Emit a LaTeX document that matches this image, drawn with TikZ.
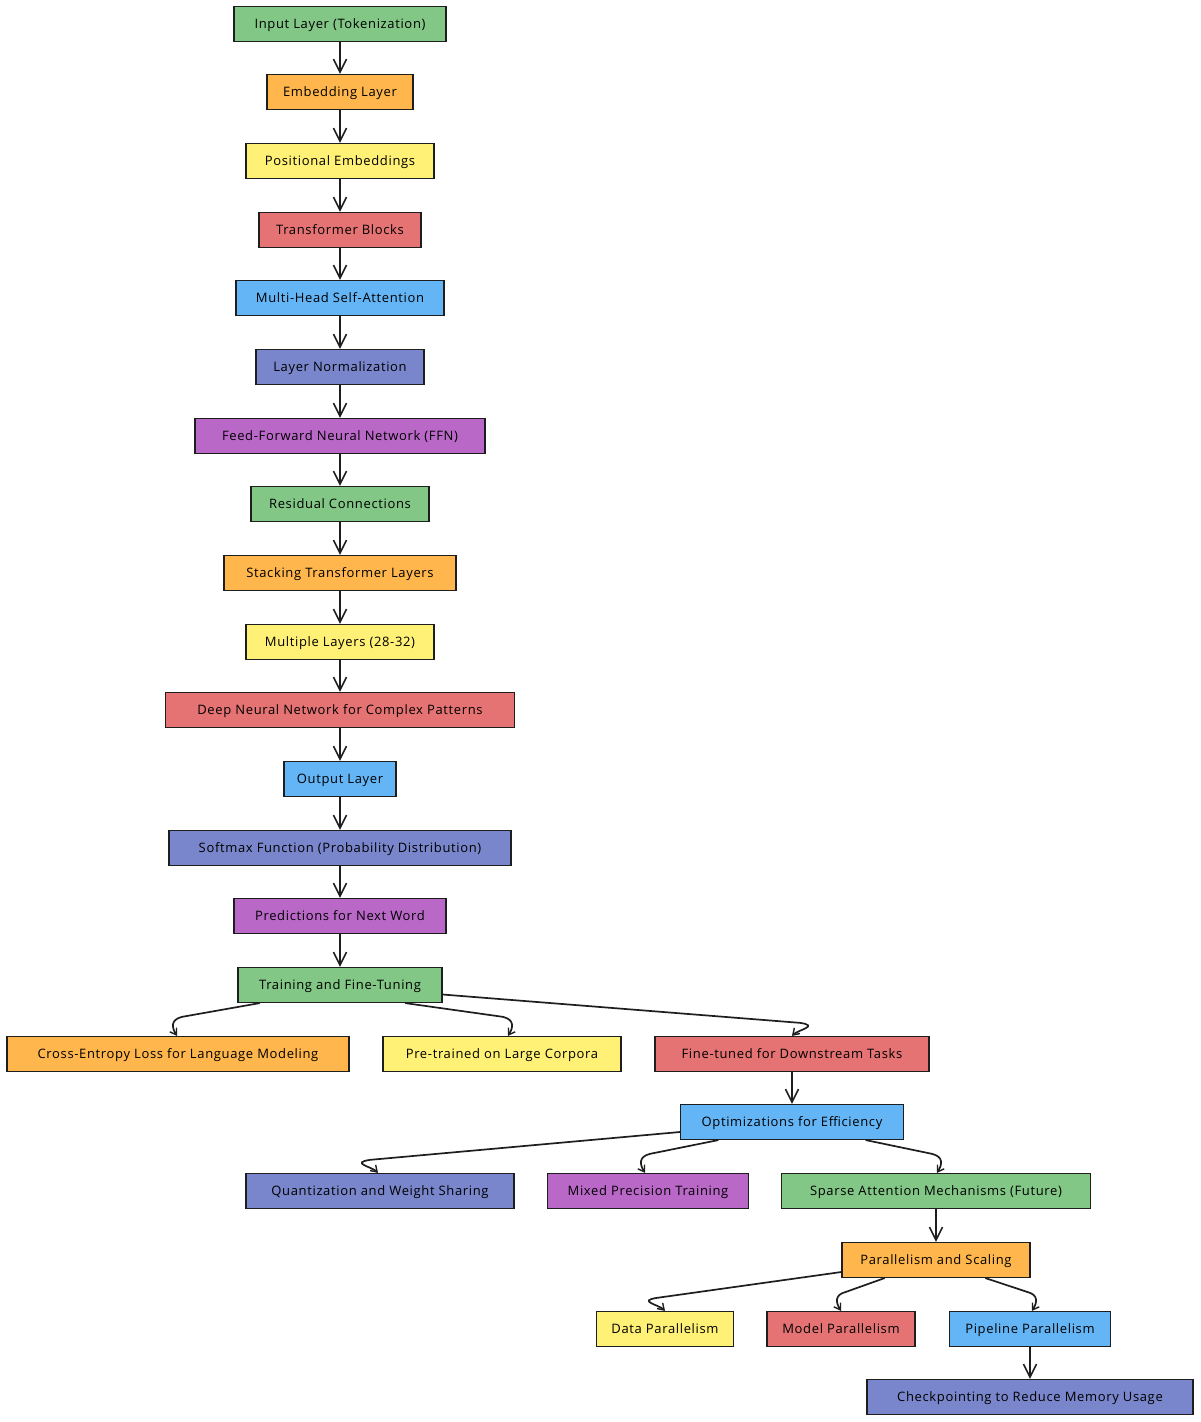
\documentclass[tikz,border=0pt]{standalone}
\usepackage{fontspec}
\setmainfont{Open Sans}[LetterSpace=5]
\usetikzlibrary{calc,arrows.meta}
\definecolor{cgreen}{HTML}{82C785}
\definecolor{corange}{HTML}{FFB74D}
\definecolor{cyellow}{HTML}{FFF176}
\definecolor{cred}{HTML}{E57373}
\definecolor{cblue}{HTML}{64B5F6}
\definecolor{cindigo}{HTML}{7986CB}
\definecolor{cpurple}{HTML}{BA68C8}
\definecolor{cline}{HTML}{1E1E1E}
\newcommand{\myhookL}[2]{\draw[hedge] (#1) -- ($(#2)+(5,-19)$) .. controls ($(#2)+(-7,-16)$) and ($(#2)+(-5,-8)$) .. (#2);}
\newcommand{\myhookR}[2]{\draw[hedge] (#1) -- ($(#2)+(-5,-19)$) .. controls ($(#2)+(7,-16)$) and ($(#2)+(5,-8)$) .. (#2);}
\newcommand{\myhookLL}[2]{\draw[hedge] (#1) -- ($(#2)+(-8,-13)$) .. controls ($(#2)+(-28,-10)$) and ($(#2)+(-6,-6)$) .. (#2);}
\newcommand{\myhookRR}[2]{\draw[hedge] (#1) -- ($(#2)+(8,-13)$) .. controls ($(#2)+(28,-10)$) and ($(#2)+(6,-6)$) .. (#2);}
\begin{document}
\begin{tikzpicture}[x=1pt,y=-1pt,
  box/.style={draw=cline, line width=1.3pt, minimum height=35pt, inner sep=0pt,
    font=\fontsize{13}{15}\selectfont, text=black, text height=9.5pt, text depth=1.5pt},
  edge/.style={draw=cline, line width=1.7pt, line cap=round,
    -{Straight Barb[length=13pt,width=13pt,line width=1.6pt]}},
  hedge/.style={draw=cline, line width=1.7pt, line cap=round,
    -{Straight Barb[length=6pt,width=8pt,line width=1.4pt]}}]
\useasboundingbox (0,0) rectangle (1200,1422);
\fill[white] (0,0) rectangle (1200,1422);
\node[box, fill=cgreen,  minimum width=212pt] (n1)  at (340,24)  {Input Layer (Tokenization)};
\node[box, fill=corange, minimum width=146pt] (n2)  at (340,92)  {Embedding Layer};
\node[box, fill=cyellow, minimum width=188pt] (n3)  at (340,161) {Positional Embeddings};
\node[box, fill=cred,    minimum width=162pt] (n4)  at (340,230) {Transformer Blocks};
\node[box, fill=cblue,   minimum width=208pt] (n5)  at (340,298) {Multi-Head Self-Attention};
\node[box, fill=cindigo, minimum width=168pt] (n6)  at (340,367) {Layer Normalization};
\node[box, fill=cpurple, minimum width=290pt] (n7)  at (340,436) {Feed-Forward Neural Network (FFN)};
\node[box, fill=cgreen,  minimum width=178pt] (n8)  at (340,504) {Residual Connections};
\node[box, fill=corange, minimum width=232pt] (n9)  at (340,573) {Stacking Transformer Layers};
\node[box, fill=cyellow, minimum width=188pt] (n10) at (340,642) {Multiple Layers (28-32)};
\node[box, fill=cred,    minimum width=349pt] (n11) at (340,710) {Deep Neural Network for Complex Patterns};
\node[box, fill=cblue,   minimum width=112pt] (n12) at (340,779) {Output Layer};
\node[box, fill=cindigo, minimum width=342pt] (n13) at (340,848) {Softmax Function (Probability Distribution)};
\node[box, fill=cpurple, minimum width=212pt] (n14) at (340,916) {Predictions for Next Word};
\node[box, fill=cgreen,  minimum width=204pt] (n15) at (340,985) {Training and Fine-Tuning};
\node[box, fill=corange, minimum width=342pt] (n16) at (178,1054) {Cross-Entropy Loss for Language Modeling};
\node[box, fill=cyellow, minimum width=238pt] (n17) at (502,1054) {Pre-trained on Large Corpora};
\node[box, fill=cred,    minimum width=274pt] (n18) at (792,1054) {Fine-tuned for Downstream Tasks};
\node[box, fill=cblue,   minimum width=223pt] (n19) at (792,1122) {Optimizations for Efficiency};
\node[box, fill=cindigo, minimum width=268pt] (n20) at (380,1191) {Quantization and Weight Sharing};
\node[box, fill=cpurple, minimum width=201pt] (n21) at (648,1191) {Mixed Precision Training};
\node[box, fill=cgreen,  minimum width=309pt] (n22) at (936,1191) {Sparse Attention Mechanisms (Future)};
\node[box, fill=corange, minimum width=188pt] (n23) at (936,1260) {Parallelism and Scaling};
\node[box, fill=cyellow, minimum width=137pt] (n24) at (665,1329) {Data Parallelism};
\node[box, fill=cred,    minimum width=148pt] (n25) at (841,1329) {Model Parallelism};
\node[box, fill=cblue,   minimum width=161pt] (n26) at (1030,1329) {Pipeline Parallelism};
\node[box, fill=cindigo, minimum width=326pt] (n27) at (1030,1397) {Checkpointing to Reduce Memory Usage};
% vertical chain
\foreach \a/\b in {n1/n2,n2/n3,n3/n4,n4/n5,n5/n6,n6/n7,n7/n8,n8/n9,n9/n10,n10/n11,n11/n12,n12/n13,n13/n14,n14/n15,n18/n19,n22/n23,n26/n27}
  \draw[edge] (\a.south) -- (\b.north);
% start and end points of the branching connectors
\coordinate (s1) at ([xshift=22pt]n15.south west);
\coordinate (s2) at ([xshift=-37pt]n15.south east);
\coordinate (s3) at ([yshift=-9.5pt]n15.east);
\coordinate (t1) at ([xshift=-1pt]n16.north);
\coordinate (t2) at ([xshift=6pt]n17.north);
\coordinate (s5) at ([yshift=-10pt]n19.west);
\coordinate (s6) at ([xshift=38pt]n19.south west);
\coordinate (s7) at ([xshift=-38pt]n19.south east);
\coordinate (t5) at ([xshift=-2pt]n20.north);
\coordinate (t6) at ([xshift=-3pt]n21.north);
\coordinate (t7) at ([xshift=1pt]n22.north);
\coordinate (s9) at ([yshift=-12pt]n23.west);
\coordinate (s10) at ([xshift=43pt]n23.south west);
\coordinate (s11) at ([xshift=-45pt]n23.south east);
\coordinate (t11) at ([xshift=2pt]n26.north);
\myhookL{s1}{t1}
\myhookR{s2}{t2}
\myhookRR{s3}{n18.north}
\myhookLL{s5}{t5}
\myhookL{s6}{t6}
\myhookR{s7}{t7}
\myhookLL{s9}{n24.north}
\myhookL{s10}{n25.north}
\myhookR{s11}{t11}
\end{tikzpicture}
\end{document}
